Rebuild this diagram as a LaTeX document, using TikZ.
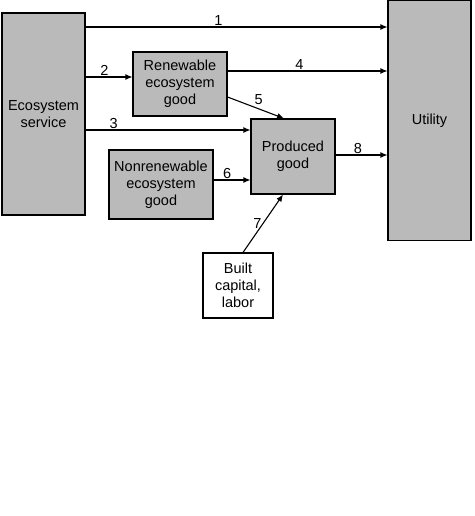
\documentclass[tikz,border=0pt]{standalone}
\usepackage{fontspec}
\setmainfont{Liberation Sans}
\usetikzlibrary{positioning,arrows.meta}

\begin{document}
\begin{tikzpicture}[x=1pt,y=-1pt,
  box/.style={draw,line width=1.1pt,fill=black!27,align=center,inner sep=0pt,
              font=\fontsize{14.5}{17}\selectfont},
  arr/.style={-{Latex[length=7pt,width=6pt]},line width=1.1pt},
  num/.style={font=\fontsize{14.5}{17}\selectfont,inner sep=1pt}]
\useasboundingbox (0,0) rectangle (474,516);
\node[box,minimum width=83,minimum height=202] (eco) at (43.5,114) {Ecosystem\\service};
\node[box,minimum width=94,minimum height=64] (ren) at (180,84) {Renewable\\ecosystem\\good};
\node[box,minimum width=104,minimum height=69] (nonren) at (161,184.5) {Nonrenewable\\ecosystem\\good};
\node[box,minimum width=84,minimum height=75] (prod) at (293,156.5) {Produced\\good};
\node[box,fill=white,minimum width=70,minimum height=65] (built) at (238,285.5) {Built\\capital,\\labor};
\node[box,minimum width=83,minimum height=240] (util) at (429.5,120.5) {Utility};
% flows
\draw[arr] (eco.east |- 0,27) -- node[num,above,pos=0.44] {1} (util.west |- 0,27);
\draw[arr] (eco.east |- 0,77) -- node[num,above,pos=0.4] {2} (ren.west |- 0,77);
\draw[arr] (ren.east |- 0,71) -- node[num,above,pos=0.45] {4} (util.west |- 0,71);
\draw[arr] (ren.east |- 0,97) -- node[num,above right,pos=0.45] {5} ([xshift=-9]prod.north);
\draw[arr] (eco.east |- 0,130) -- node[num,above,pos=0.17] {3} (prod.west |- 0,130);
\draw[arr] (nonren.east |- 0,180) -- node[num,above,pos=0.37] {6} (prod.west |- 0,180);
\draw[arr] (prod.east |- 0,155) -- node[num,above,pos=0.43] {8} (util.west |- 0,155);
\draw[arr] ([xshift=5]built.north) -- node[num,left,pos=0.5] {7} ([xshift=-10]prod.south);
\end{tikzpicture}
\end{document}
